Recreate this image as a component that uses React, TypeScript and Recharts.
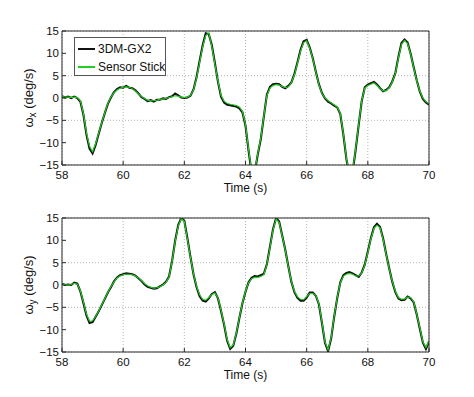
import React from 'react';
import { LineChart, Line, XAxis, YAxis, CartesianGrid } from 'recharts';

const TIME = [
  58.0, 58.1, 58.2, 58.3, 58.4, 58.5, 58.6, 58.7, 58.8, 58.9,
  59.0, 59.1, 59.2, 59.3, 59.4, 59.5, 59.6, 59.7, 59.8, 59.9,
  60.0, 60.1, 60.2, 60.3, 60.4, 60.5, 60.6, 60.7, 60.8, 60.9,
  61.0, 61.1, 61.2, 61.3, 61.4, 61.5, 61.6, 61.7, 61.8, 61.9,
  62.0, 62.1, 62.2, 62.3, 62.4, 62.5, 62.6, 62.7, 62.8, 62.9,
  63.0, 63.1, 63.2, 63.3, 63.4, 63.5, 63.6, 63.7, 63.8, 63.9,
  64.0, 64.1, 64.2, 64.3, 64.4, 64.5, 64.6, 64.7, 64.8, 64.9,
  65.0, 65.1, 65.2, 65.3, 65.4, 65.5, 65.6, 65.7, 65.8, 65.9,
  66.0, 66.1, 66.2, 66.3, 66.4, 66.5, 66.6, 66.7, 66.8, 66.9,
  67.0, 67.1, 67.2, 67.3, 67.4, 67.5, 67.6, 67.7, 67.8, 67.9,
  68.0, 68.1, 68.2, 68.3, 68.4, 68.5, 68.6, 68.7, 68.8, 68.9,
  69.0, 69.1, 69.2, 69.3, 69.4, 69.5, 69.6, 69.7, 69.8, 69.9,
  70.0,
];

// omega_x (deg/s)
const WX_GX2 = [
  0.4, 0.1, 0.3, 0.0, 0.3, 0.0, -0.8, -3.7, -8.2, -11.3,
  -12.4, -10.5, -8.0, -5.6, -3.4, -1.3, 0.1, 1.3, 2.0, 2.4,
  2.3, 2.7, 2.3, 2.2, 1.7, 1.0, 0.2, -0.2, -0.7, -0.5,
  -0.8, -0.4, -0.4, -0.1, -0.2, 0.2, 0.4, 1.0, 0.6, 0.1,
  0.0, 0.1, 0.5, 1.9, 4.7, 8.3, 11.8, 14.5, 14.3, 11.8,
  7.8, 3.6, 0.3, -1.0, -1.5, -1.6, -1.8, -1.9, -2.3, -3.2,
  -6.2, -11.8, -16.8, -16.7, -12.7, -9.2, -4.1, 0.8, 2.5, 3.1,
  3.2, 3.1, 2.5, 2.2, 2.7, 3.5, 5.4, 8.0, 10.8, 12.7,
  13.0, 11.3, 8.9, 5.9, 3.1, 1.1, -0.1, -0.8, -1.2, -1.7,
  -2.1, -3.6, -8.2, -13.7, -17.2, -16.7, -11.7, -6.1, -0.7, 2.4,
  3.0, 3.3, 3.6, 3.0, 2.2, 1.5, 1.8, 2.4, 3.7, 5.6,
  9.2, 12.3, 13.1, 12.4, 9.9, 6.9, 3.9, 1.4, -0.2, -1.0,
  -1.5,
];
const WX_STICK = [
  0.3, 0.2, 0.2, 0.1, 0.2, 0.1, -0.6, -3.5, -7.8, -10.8,
  -12.0, -10.2, -7.8, -5.5, -3.3, -1.2, 0.2, 1.2, 1.8, 2.2,
  2.4, 2.5, 2.4, 2.1, 1.6, 0.9, 0.3, -0.1, -0.5, -0.6,
  -0.6, -0.5, -0.3, -0.2, -0.1, 0.1, 0.3, 0.5, 0.4, 0.2,
  0.1, 0.2, 0.6, 1.8, 4.5, 8.0, 11.5, 14.0, 14.6, 11.5,
  7.5, 3.8, 0.6, -0.7, -1.2, -1.4, -1.5, -1.7, -2.0, -3.0,
  -6.0, -11.5, -16.5, -16.5, -12.5, -9.0, -4.0, 0.6, 2.2, 2.8,
  3.0, 2.9, 2.6, 2.3, 2.5, 3.4, 5.2, 7.8, 10.5, 12.4,
  12.8, 11.1, 8.8, 5.8, 3.0, 1.0, 0.0, -0.6, -1.1, -1.5,
  -2.0, -3.5, -8.0, -13.5, -17.0, -16.5, -11.5, -6.0, -0.6, 2.2,
  2.8, 3.1, 3.4, 2.8, 2.1, 1.6, 1.6, 2.3, 3.6, 5.5,
  9.0, 12.0, 12.9, 12.2, 9.8, 6.8, 3.8, 1.5, 0.0, -0.8,
  -1.3,
];

// omega_y (deg/s)
const WY_GX2 = [
  0.3, 0.0, 0.1, 0.0, 0.5, 0.3, -1.4, -4.0, -6.8, -8.5,
  -8.3, -7.1, -5.9, -4.5, -3.1, -1.7, -0.5, 0.8, 1.7, 2.2,
  2.4, 2.6, 2.5, 2.4, 2.1, 1.5, 0.9, 0.1, -0.4, -0.6,
  -0.8, -0.7, -0.3, 0.1, 0.7, 1.9, 5.4, 9.9, 13.4, 15.0,
  14.4, 10.5, 6.3, 2.4, -0.5, -2.5, -3.5, -3.7, -3.0, -2.0,
  -1.6, -3.0, -5.8, -8.9, -12.5, -14.3, -13.6, -10.9, -7.4, -4.1,
  -1.5, 0.6, 1.6, 2.0, 1.9, 2.2, 2.5, 4.7, 8.6, 12.5,
  15.0, 14.2, 11.1, 7.9, 4.2, 0.7, -1.6, -2.9, -3.5, -3.5,
  -2.8, -1.7, -1.7, -2.4, -4.3, -8.5, -13.0, -14.8, -12.0, -7.1,
  -2.9, 0.6, 2.2, 2.7, 2.9, 2.6, 2.2, 1.8, 2.8, 4.6,
  7.5, 10.5, 12.9, 13.7, 13.0, 10.4, 6.9, 3.7, 0.7, -1.6,
  -3.0, -3.4, -3.3, -2.6, -3.0, -3.9, -6.6, -9.8, -12.9, -14.3,
  -12.7,
];
const WY_STICK = [
  0.2, 0.1, 0.0, 0.1, 0.4, 0.2, -1.3, -3.8, -6.5, -8.1,
  -8.0, -7.0, -5.8, -4.4, -3.0, -1.6, -0.4, 0.7, 1.6, 2.0,
  2.3, 2.4, 2.4, 2.3, 2.0, 1.6, 1.0, 0.3, -0.2, -0.5,
  -0.7, -0.6, -0.4, 0.0, 0.6, 1.8, 5.3, 9.7, 13.2, 14.9,
  14.2, 10.3, 6.2, 2.5, -0.3, -2.2, -3.2, -3.4, -2.8, -2.1,
  -1.8, -2.9, -5.6, -8.7, -12.2, -14.0, -13.4, -10.8, -7.3, -4.0,
  -1.4, 0.5, 1.4, 1.7, 1.7, 1.9, 2.3, 4.6, 8.4, 12.3,
  14.8, 14.0, 11.0, 7.8, 4.1, 0.8, -1.4, -2.6, -3.2, -3.3,
  -2.6, -1.9, -1.9, -2.3, -4.2, -8.3, -12.8, -14.5, -11.8, -7.0,
  -2.8, 0.5, 2.0, 2.4, 2.6, 2.4, 2.0, 2.0, 2.7, 4.5,
  7.3, 10.3, 12.7, 13.4, 12.8, 10.2, 6.8, 3.6, 0.8, -1.4,
  -2.8, -3.2, -3.1, -2.7, -2.8, -3.8, -6.5, -9.6, -12.7, -14.0,
  -12.5,
];

const X_TICKS = [58, 60, 62, 64, 66, 68, 70];
const Y_TICKS = [-15, -10, -5, 0, 5, 10, 15];
const SERIES_NAMES = ['3DM-GX2', 'Sensor Stick'];
const X_LABEL = 'Time (s)';
const Y_UNIT = ' (deg/s)';

const FONT = '"Liberation Sans", Arial, Helvetica, sans-serif';
const BLACK = '#111111';
const GREEN = '#1ed21e';
const AXIS = '#2b2b2b';

const rowsX = TIME.map((t, i) => ({ t, gx2: WX_GX2[i], stick: WX_STICK[i] }));
const rowsY = TIME.map((t, i) => ({ t, gx2: WY_GX2[i], stick: WY_STICK[i] }));

const fmtTick = (v: number) => (v < 0 ? '\u2212' + Math.abs(v) : String(v));

function YLabel(sub: string) {
  return (props: any) => {
    const vb = props.viewBox || {};
    const cx = vb.x + 6;
    const cy = vb.y + vb.height / 2;
    return (
      <text
        x={cx}
        y={cy}
        transform={`rotate(-90 ${cx} ${cy})`}
        textAnchor="middle"
        dominantBaseline="central"
        fontFamily={FONT}
        fontSize={13}
        fill="#111"
      >
        ω<tspan dy={4} fontSize={10}>{sub}</tspan>
        <tspan dy={-4}>{Y_UNIT}</tspan>
      </text>
    );
  };
}

function XLabel(props: any) {
  const vb = props.viewBox || {};
  return (
    <text
      x={vb.x + vb.width / 2}
      y={vb.y + 27}
      textAnchor="middle"
      fontFamily={FONT}
      fontSize={12}
      fill="#111"
    >
      {X_LABEL}
    </text>
  );
}

function Panel({ data, sub, top }: { data: any[]; sub: string; top: number }) {
  const tickStyle = { fill: '#111', fontSize: 11.5, fontFamily: FONT };
  return (
    <div style={{ position: 'absolute', left: 0, top, width: 474, height: 200 }}>
      <LineChart
        width={474}
        height={200}
        data={data}
        margin={{ top: 30, right: 44, bottom: 5, left: 22 }}
      >
        <CartesianGrid stroke="#b4b4b4" strokeDasharray="1 2" />
        <XAxis
          dataKey="t"
          type="number"
          domain={[58, 70]}
          ticks={X_TICKS}
          allowDataOverflow
          height={30}
          tickSize={-4}
          tickMargin={10}
          axisLine={{ stroke: AXIS }}
          tickLine={{ stroke: AXIS }}
          tick={tickStyle}
          label={{ content: XLabel }}
        />
        <XAxis
          xAxisId="top"
          orientation="top"
          dataKey="t"
          type="number"
          domain={[58, 70]}
          ticks={X_TICKS}
          allowDataOverflow
          height={1}
          tickSize={-4}
          axisLine={{ stroke: AXIS }}
          tickLine={{ stroke: AXIS }}
          tick={false}
        />
        <YAxis
          type="number"
          domain={[-15, 15]}
          ticks={Y_TICKS}
          allowDataOverflow
          width={40}
          tickSize={-4}
          tickMargin={7}
          tickFormatter={fmtTick}
          axisLine={{ stroke: AXIS }}
          tickLine={{ stroke: AXIS }}
          tick={tickStyle}
          label={{ content: YLabel(sub) }}
        />
        <YAxis
          yAxisId="right"
          orientation="right"
          type="number"
          domain={[-15, 15]}
          ticks={Y_TICKS}
          allowDataOverflow
          width={1}
          tickSize={-4}
          axisLine={{ stroke: AXIS }}
          tickLine={{ stroke: AXIS }}
          tick={false}
        />
        <Line
          type="linear"
          dataKey="gx2"
          name={SERIES_NAMES[0]}
          stroke={BLACK}
          strokeWidth={2.1}
          dot={false}
          isAnimationActive={false}
        />
        <Line
          type="linear"
          dataKey="stick"
          name={SERIES_NAMES[1]}
          stroke={GREEN}
          strokeWidth={1.1}
          dot={false}
          isAnimationActive={false}
        />
      </LineChart>
    </div>
  );
}

function LegendBox() {
  const row = (color: string, label: string, y: number, w: number) => (
    <div style={{ position: 'absolute', left: 3, top: y, height: 14, display: 'flex', alignItems: 'center' }}>
      <div style={{ width: 17, height: w, background: color }} />
      <span style={{ marginLeft: 3, fontSize: 12, fontFamily: FONT, color: '#111', whiteSpace: 'nowrap' }}>{label}</span>
    </div>
  );
  return (
    <div
      style={{
        position: 'absolute',
        left: 74,
        top: 37,
        width: 92,
        height: 39,
        border: '1px solid #555',
        background: '#fff',
        boxSizing: 'border-box',
      }}
    >
      {row(BLACK, SERIES_NAMES[0], 4, 2)}
      {row(GREEN, SERIES_NAMES[1], 22, 1.3)}
    </div>
  );
}

export default function App() {
  return (
    <div style={{ position: 'absolute', left: 0, top: 0, width: 474, height: 397, background: '#fff', overflow: 'hidden' }}>
      <Panel data={rowsX} sub="x" top={0} />
      <Panel data={rowsY} sub="y" top={187} />
      <LegendBox />
    </div>
  );
}
